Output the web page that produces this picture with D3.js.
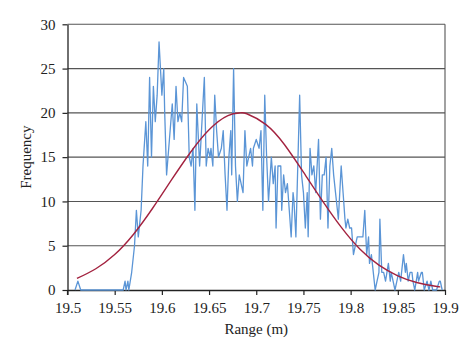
<!DOCTYPE html>
<html>
<head>
<meta charset="utf-8">
<script src="https://cdn.jsdelivr.net/npm/d3@7"></script>
<style>
  html, body { margin: 0; padding: 0; background: #fff; }
  svg { display: block; }
  text { font-family: "Liberation Serif", "Times New Roman", serif; fill: #222; }
</style>
</head>
<body>
<svg id="chart" width="474" height="355"></svg>
<script>
// ---- data ----
const rangeX = [19.508,19.511,19.514,19.557,19.559,19.561,19.562,19.564,19.565,19.568,19.571,19.573,19.575,19.578,19.580,19.583,19.585,19.587,19.589,19.591,19.593,19.595,19.597,19.600,19.602,19.603,19.605,19.608,19.611,19.613,19.615,19.617,19.619,19.621,19.623,19.627,19.629,19.631,19.633,19.635,19.637,19.640,19.642,19.645,19.647,19.649,19.651,19.652,19.654,19.656,19.658,19.660,19.663,19.665,19.667,19.669,19.671,19.673,19.674,19.676,19.678,19.680,19.682,19.686,19.688,19.690,19.692,19.694,19.696,19.697,19.700,19.703,19.705,19.707,19.709,19.711,19.713,19.716,19.718,19.720,19.721,19.723,19.726,19.727,19.729,19.731,19.733,19.735,19.737,19.739,19.740,19.742,19.744,19.746,19.748,19.750,19.752,19.754,19.755,19.757,19.759,19.761,19.763,19.766,19.768,19.770,19.772,19.774,19.776,19.778,19.780,19.782,19.784,19.786,19.787,19.790,19.792,19.794,19.795,19.797,19.799,19.801,19.803,19.805,19.807,19.809,19.812,19.813,19.815,19.817,19.819,19.820,19.822,19.823,19.826,19.828,19.830,19.831,19.833,19.835,19.837,19.840,19.842,19.843,19.845,19.847,19.849,19.851,19.853,19.856,19.858,19.859,19.861,19.863,19.865,19.866,19.868,19.871,19.872,19.875,19.876,19.878,19.881,19.883,19.885,19.887,19.891,19.894,19.895,19.897];
const frequency = [0,1,0,0,0,1,0,1,0,2,5,9,6,9,14,19,14,24,15,23,19,22,28,22,25,20,13,17,21,17,23,19,20,19,24,23,15,14,16,9,21,14,18,24,14,16,15,16,14,22,18,15,16,18,13,9,15,18,13,25,14,10,13,11,18,14,15,16,14,16,17,16,18,9,22,15,10,15,12,14,7,14,14,9,13,11,12,9,6,11,10,6,14,22,13,11,7,11,6,16,13,14,11,17,8,13,13,15,7,14,16,13,11,9,8,14,11,8,7,8,7,7,4,5,6,6,6,6,9,4,6,3,4,3,0,1,2,8,2,2,1,3,1,2,1,0,1,2,1,4,2,3,1,2,2,1,0,2,1,2,2,0,1,0,1,0,0,1,1,0];
const fitX = [19.51,19.53,19.55,19.57,19.59,19.61,19.63,19.65,19.67,19.683,19.69,19.71,19.73,19.75,19.77,19.79,19.81,19.83,19.85,19.87,19.89,19.895];
const fitY = [1.3,2.4,4.0,6.3,9.2,12.4,15.5,18.1,19.7,20.0,19.9,18.7,16.4,13.3,10.1,7.1,4.6,2.8,1.6,0.85,0.42,0.35];
const xTicks = [19.5,19.55,19.6,19.65,19.7,19.75,19.8,19.85,19.9];
const xTickLabels = ["19.5","19.55","19.6","19.65","19.7","19.75","19.8","19.85","19.9"];
const yTicks = [0,5,10,15,20,25,30];

// ---- layout ----
const L = 67.5, R = 445, T = 24.3, B = 290;
const svg = d3.select("#chart");
const x = d3.scaleLinear().domain([19.5, 19.9]).range([L, R]);
const y = d3.scaleLinear().domain([0, 30]).range([B, T]);

// gridlines
svg.append("g").selectAll("line").data(yTicks.filter(d => d > 0)).join("line")
  .attr("x1", L).attr("x2", R)
  .attr("y1", d => y(d)).attr("y2", d => y(d))
  .attr("stroke", "#555").attr("stroke-width", 1.1);

// right border
svg.append("line").attr("x1", R).attr("x2", R).attr("y1", T).attr("y2", B)
  .attr("stroke", "#555").attr("stroke-width", 1.1);

// axes
const xAxis = svg.append("g").attr("transform", `translate(0,${B})`)
  .call(d3.axisBottom(x).tickValues(xTicks).tickFormat((d, i) => xTickLabels[i])
    .tickSizeInner(5).tickSizeOuter(0).tickPadding(7));
const yAxis = svg.append("g").attr("transform", `translate(${L},0)`)
  .call(d3.axisLeft(y).tickValues(yTicks).tickSizeInner(5).tickSizeOuter(0).tickPadding(7));
[xAxis, yAxis].forEach(g => {
  g.select(".domain").attr("stroke", "#222").attr("stroke-width", 1.3);
  g.selectAll(".tick line").attr("stroke", "#222").attr("stroke-width", 1.2);
  g.selectAll(".tick text").attr("font-size", 15).attr("fill", "#222")
    .attr("font-family", "'Liberation Serif', serif");
});
// y-axis domain extends a bit below x-axis like the reference
svg.append("line").attr("x1", L).attr("x2", L).attr("y1", B).attr("y2", B + 5)
  .attr("stroke", "#222").attr("stroke-width", 1.2);

// blue frequency line
const blue = rangeX.map((d, i) => [d, frequency[i]]);
svg.append("path").datum(blue)
  .attr("fill", "none").attr("stroke", "#5b95d6").attr("stroke-width", 1.3)
  .attr("stroke-linejoin", "round")
  .attr("d", d3.line().x(d => x(d[0])).y(d => y(d[1])));

// red fitted curve
const fit = fitX.map((d, i) => [d, fitY[i]]);
svg.append("path").datum(fit)
  .attr("fill", "none").attr("stroke", "#a3223f").attr("stroke-width", 1.4)
  .attr("d", d3.line().curve(d3.curveNatural).x(d => x(d[0])).y(d => y(d[1])));

// axis titles
svg.append("text").attr("x", (L + R) / 2).attr("y", 334)
  .attr("text-anchor", "middle").attr("font-size", 15).text("Range (m)");
svg.append("text").attr("transform", `translate(31,${(T + B) / 2}) rotate(-90)`)
  .attr("text-anchor", "middle").attr("font-size", 15).text("Frequency");
</script>
</body>
</html>
